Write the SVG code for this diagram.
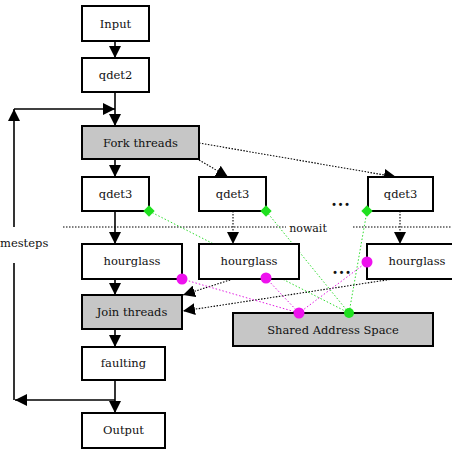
<svg xmlns="http://www.w3.org/2000/svg" width="452" height="452" viewBox="0 0 452 452">
<defs>
<marker id="ah" markerUnits="userSpaceOnUse" markerWidth="12" markerHeight="12" refX="12" refY="6" orient="auto"><path d="M0,0 L12,6 L0,12 z" fill="#000"/></marker>
<style>
.box{fill:#fff;stroke:#000;stroke-width:2}
.gray{fill:#c6c6c6;stroke:#000;stroke-width:2}
text{font-family:"DejaVu Serif",serif;font-size:11.5px;fill:#111;text-anchor:middle}
.solid{stroke:#000;stroke-width:1.6;fill:none}
.dot{stroke:#000;stroke-width:1.1;fill:none;stroke-dasharray:1.5 1.5}
.g{stroke:#2fdc2f;stroke-width:1;fill:none;stroke-dasharray:1.5 2}
.m{stroke:#e21ee2;stroke-width:1;fill:none;stroke-dasharray:1.5 2}
.gp{fill:#1fe01f}
.mp{fill:#ee11ee}
</style>
</defs>
<rect width="452" height="452" fill="#fff"/>
<g id="connectors">
<line class="solid" x1="115" y1="41" x2="115" y2="58" marker-end="url(#ah)"/>
<line class="solid" x1="115" y1="92" x2="115" y2="126" marker-end="url(#ah)"/>
<line class="solid" x1="115" y1="159" x2="115" y2="177" marker-end="url(#ah)"/>
<line class="solid" x1="115" y1="211" x2="115" y2="244" marker-end="url(#ah)"/>
<line class="solid" x1="115" y1="279" x2="115" y2="295" marker-end="url(#ah)"/>
<line class="solid" x1="115" y1="329" x2="115" y2="347" marker-end="url(#ah)"/>
<line class="solid" x1="115" y1="380" x2="115" y2="413" marker-end="url(#ah)"/>
<line class="solid" x1="115" y1="400" x2="15" y2="400" marker-end="url(#ah)"/>
<line class="solid" x1="14" y1="400" x2="14" y2="263"/>
<line class="solid" x1="14" y1="227" x2="14" y2="109" marker-end="url(#ah)"/>
<line class="solid" x1="14" y1="109" x2="115" y2="109" marker-end="url(#ah)"/>
<line class="dot" x1="199" y1="160" x2="228" y2="177" marker-end="url(#ah)"/>
<line class="dot" x1="199" y1="143" x2="396" y2="177" marker-end="url(#ah)"/>
<line class="dot" x1="233" y1="211" x2="233" y2="244" marker-end="url(#ah)"/>
<line class="dot" x1="400" y1="211" x2="400" y2="244" marker-end="url(#ah)"/>
<line class="dot" x1="63" y1="227" x2="286" y2="227"/>
<line class="dot" x1="353" y1="227" x2="452" y2="227"/>
<line class="dot" x1="233" y1="279" x2="183" y2="295" marker-end="url(#ah)"/>
<line class="dot" x1="393" y1="279" x2="183" y2="311" marker-end="url(#ah)"/>
<line class="g" x1="149" y1="211" x2="349" y2="313"/>
<line class="g" x1="266" y1="211" x2="349" y2="313"/>
<line class="g" x1="367" y1="211" x2="349" y2="313"/>
<line class="m" x1="182" y1="279" x2="299" y2="313"/>
<line class="m" x1="266" y1="278" x2="299" y2="313"/>
<line class="m" x1="367" y1="262" x2="299" y2="313"/>
</g>
<g id="input"><rect class="box" x="82" y="6" width="67" height="35"/><text x="115.5" y="27.5">Input</text></g>
<g id="qdet2"><rect class="box" x="82" y="58" width="67" height="34"/><text x="115.5" y="79">qdet2</text></g>
<g id="fork"><rect class="gray" x="82" y="126" width="117" height="33"/><text x="140.5" y="147">Fork threads</text></g>
<g id="qdet3a"><rect class="box" x="82" y="177" width="67" height="34"/><text x="115.5" y="198">qdet3</text></g>
<g id="qdet3b"><rect class="box" x="199" y="177" width="67" height="34"/><text x="232.5" y="198">qdet3</text></g>
<g id="qdet3c"><rect class="box" x="368" y="177" width="65" height="34"/><text x="400.5" y="198">qdet3</text></g>
<g id="hourglassa"><rect class="box" x="82" y="244" width="100" height="35"/><text x="132" y="265">hourglass</text></g>
<g id="hourglassb"><rect class="box" x="199" y="244" width="100" height="35"/><text x="249" y="265">hourglass</text></g>
<g id="hourglassc"><rect class="box" x="367" y="244" width="100" height="35"/><text x="417" y="265">hourglass</text></g>
<g id="join"><rect class="gray" x="82" y="295" width="100" height="34"/><text x="132" y="316">Join threads</text></g>
<g id="faulting"><rect class="box" x="82" y="347" width="83" height="33"/><text x="123.5" y="367">faulting</text></g>
<g id="output"><rect class="box" x="82" y="413" width="83" height="35"/><text x="123.5" y="434">Output</text></g>
<g id="shared"><rect class="gray" x="233" y="313" width="200" height="33"/><text x="333" y="333.5">Shared Address Space</text></g>
<g id="labels">
<text x="308" y="232" style="font-size:11px">nowait</text>
<text x="0" y="247" style="text-anchor:start">mesteps</text>
<text x="341" y="206" style="font-size:16px;font-weight:bold;letter-spacing:1px">...</text>
<text x="342" y="274" style="font-size:16px;font-weight:bold;letter-spacing:1px">...</text>
</g>
<g id="ports">
<rect class="gp" x="145" y="207" width="8" height="8" transform="rotate(45 149 211)"/>
<rect class="gp" x="262" y="207" width="8" height="8" transform="rotate(45 266 211)"/>
<rect class="gp" x="363" y="207" width="8" height="8" transform="rotate(45 367 211)"/>
<circle class="gp" cx="349" cy="313" r="5"/>
<circle class="mp" cx="182" cy="279" r="5.5"/>
<circle class="mp" cx="266" cy="278" r="5.5"/>
<circle class="mp" cx="367" cy="262" r="5.5"/>
<circle class="mp" cx="299" cy="313" r="5.5"/>
</g>
</svg>
